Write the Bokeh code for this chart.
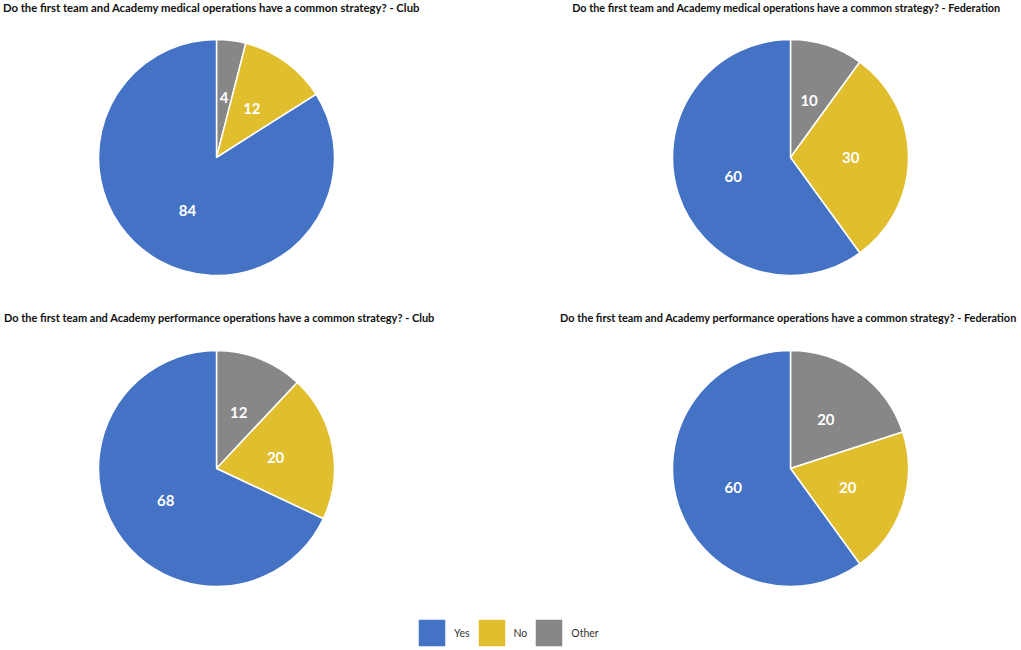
import math
from bokeh.plotting import figure
from bokeh.models import ColumnDataSource, Range1d, Legend, LegendItem
from bokeh.core.properties import value
from bokeh.embed import file_html
from bokeh.resources import INLINE

# ---- data ----
categories = ["Yes", "No", "Other"]
colors = ["#4472C4", "#E1BE2D", "#878787"]
club_medical = [84, 12, 4]
federation_medical = [60, 30, 10]
club_performance = [68, 20, 12]
federation_performance = [60, 20, 20]
titles = [
    "Do the first team and Academy medical operations have a common strategy? - Club",
    "Do the first team and Academy medical operations have a common strategy? - Federation",
    "Do the first team and Academy performance operations have a common strategy? - Club",
    "Do the first team and Academy performance operations have a common strategy? - Federation",
]
series = [club_medical, federation_medical, club_performance, federation_performance]

# ---- layout (screen-like coordinates) ----
W, H = 1021, 650
centers = [(216, 493), (790, 493), (216, 182), (790, 182)]
title_x = [211, 786, 219, 788]
title_y = [643, 643, 333, 333]
title_sizes = ["11.3px", "10.8px", "11px", "10.9px"]
R = 118
FONT = "Lato"

p = figure(width=W, height=H, output_backend="svg", toolbar_location=None,
           x_range=Range1d(0, W), y_range=Range1d(0, H), min_border=0)
p.axis.visible = False
p.grid.visible = False
p.outline_line_color = None
p.background_fill_color = "white"

renderers = []
for (cx, cy), vals in zip(centers, series):
    # clockwise from 12 o'clock: Other, No, Yes
    order = [2, 1, 0]
    total = float(sum(vals))
    starts, ends, cols, labs, lx, ly = [], [], [], [], [], []
    acc = 0.0
    for i in order:
        f0 = acc / total
        acc += vals[i]
        f1 = acc / total
        a0 = math.pi / 2 - 2 * math.pi * f0
        a1 = math.pi / 2 - 2 * math.pi * f1
        starts.append(a0)
        ends.append(a1)
        cols.append(colors[i])
        labs.append(str(vals[i]))
        am = (a0 + a1) / 2
        lx.append(cx + 0.51 * R * math.cos(am))
        ly.append(cy + 0.51 * R * math.sin(am))
    src = ColumnDataSource(dict(x=[cx] * 3, y=[cy] * 3, start=starts, end=ends,
                                color=cols, cat=[categories[i] for i in order]))
    r = p.wedge(x="x", y="y", radius=R, start_angle="start", end_angle="end",
                direction="clock", fill_color="color", line_color="white",
                line_width=1.5, source=src)
    renderers.append(r)
    lsrc = ColumnDataSource(dict(x=lx, y=ly, t=labs))
    p.text(x="x", y="y", text="t", source=lsrc, text_align="center",
           text_baseline="middle", text_color="white", text_font=value(FONT),
           text_font_style="bold", text_font_size="15px")

tsrc = ColumnDataSource(dict(x=title_x, y=title_y, t=titles, s=title_sizes))
p.text(x="x", y="y", text="t", source=tsrc, text_align="center",
       text_baseline="middle", text_color="#111111", text_font=value(FONT),
       text_font_style="bold", text_font_size="s")

# legend: data order of first pie is Other, No, Yes
items = [LegendItem(label=categories[k], renderers=[renderers[0]], index=2 - k)
         for k in range(3)]
legend = Legend(items=items, orientation="horizontal", location=(414, 0),
                glyph_width=35, glyph_height=35, label_standoff=5, spacing=4,
                padding=0, margin=0, label_width=0,
                border_line_alpha=0, background_fill_alpha=0,
                label_text_font=FONT, label_text_font_size="10.5px",
                label_text_color="#333333")
p.add_layout(legend)

open("out.html", "w").write(file_html(p, INLINE))
